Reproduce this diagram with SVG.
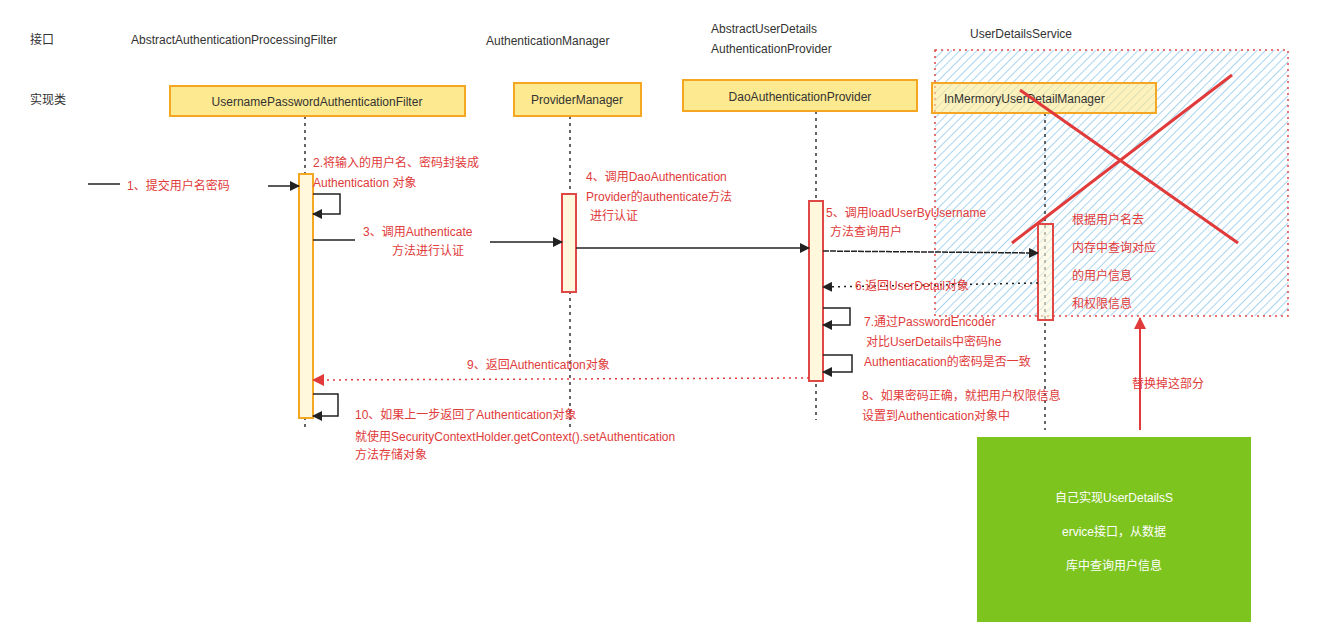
<svg xmlns="http://www.w3.org/2000/svg" width="1326" height="639" viewBox="0 0 1326 639">
<style>
text{font-family:"Liberation Sans","Noto Sans CJK SC",sans-serif;font-size:12px}
.k{fill:#333}
.r{fill:#e03a3a}
.box{fill:#fde98f;stroke:#f5a623;stroke-width:2}
.life{stroke:#333;stroke-width:1.5;stroke-dasharray:3 4;fill:none}
.actO{fill:#fff8dc;stroke:#f5a623;stroke-width:2}
.actR{fill:#fff8dc;stroke:#e04848;stroke-width:2}
.ln{stroke:#222;stroke-width:1.5;fill:none}
</style>
<defs>
<pattern id="h" width="6" height="6" patternUnits="userSpaceOnUse" patternTransform="rotate(45)">
<rect width="6" height="6" fill="#fff"/><line x1="0" y1="0" x2="0" y2="6" stroke="#a8d4f0" stroke-width="2"/>
</pattern>
<marker id="a" markerWidth="10" markerHeight="10" refX="9" refY="5" orient="auto" markerUnits="userSpaceOnUse"><path d="M0,0 L10,5 L0,10Z" fill="#222"/></marker>
<marker id="ar" markerWidth="12" markerHeight="12" refX="11" refY="6" orient="auto" markerUnits="userSpaceOnUse"><path d="M0,0 L12,6 L0,12Z" fill="#e03a3a"/></marker>
</defs>
<rect width="1326" height="639" fill="#fff"/>
<g id="region">
<rect x="935" y="50" width="353" height="266" fill="url(#h)" stroke="#e04848" stroke-width="1.5" stroke-dasharray="2 4"/>
</g>
<g id="labels">
<text class="k" x="30" y="44" font-size="14">接口</text>
<text class="k" x="30" y="104" font-size="14">实现类</text>
<text class="k" x="131" y="44">AbstractAuthenticationProcessingFilter</text>
<text class="k" x="486" y="45">AuthenticationManager</text>
<text class="k" x="711" y="33">AbstractUserDetails</text>
<text class="k" x="711" y="53">AuthenticationProvider</text>
<text class="k" x="970" y="38">UserDetailsService</text>
</g>
<g id="lifelines">
<line class="life" x1="305" y1="116" x2="305" y2="430"/>
<line class="life" x1="570" y1="116" x2="570" y2="430"/>
<line class="life" x1="816" y1="111" x2="816" y2="420"/>
<line class="life" x1="1045" y1="113" x2="1045" y2="430"/>
</g>
<g id="n1"><rect class="box" x="170" y="86" width="295" height="30"/><text class="k" x="317" y="106" text-anchor="middle">UsernamePasswordAuthenticationFilter</text></g>
<g id="n2"><rect class="box" x="514" y="83" width="127" height="33"/><text class="k" x="577" y="104" text-anchor="middle">ProviderManager</text></g>
<g id="n3"><rect class="box" x="683" y="80" width="234" height="31"/><text class="k" x="800" y="101" text-anchor="middle">DaoAuthenticationProvider</text></g>
<g id="n4"><rect class="box" x="932" y="83" width="224" height="30" fill-opacity="0.6"/><text class="k" x="944" y="103">InMermoryUserDetailManager</text></g>
<g id="activations">
<rect class="actO" x="299" y="174" width="14" height="244"/>
<rect class="actR" x="562" y="194" width="14" height="98"/>
<rect class="actR" x="809" y="201" width="14" height="180"/>
<rect class="actR" x="1038" y="224" width="15" height="96" fill-opacity="0.6"/>
</g>
<g id="connectors">
<line class="ln" x1="88" y1="184" x2="120" y2="184"/>
<line class="ln" x1="268" y1="186" x2="299" y2="186" marker-end="url(#a)"/>
<polyline class="ln" points="313,194 340,194 340,214 313,214" marker-end="url(#a)"/>
<line class="ln" x1="313" y1="240" x2="355" y2="240"/>
<line class="ln" x1="490" y1="242" x2="562" y2="242" marker-end="url(#a)"/>
<line class="ln" x1="576" y1="248" x2="809" y2="248" marker-end="url(#a)"/>
<line class="ln" x1="823" y1="251" x2="1038" y2="253" stroke-dasharray="6 1" marker-end="url(#a)"/>
<line class="ln" x1="1038" y1="283" x2="823" y2="287" stroke-dasharray="2 4" marker-end="url(#a)"/>
<polyline class="ln" points="823,308 850,308 850,325 823,325" marker-end="url(#a)"/>
<polyline class="ln" points="823,355 852,355 852,372 823,372" marker-end="url(#a)"/>
<line x1="809" y1="378" x2="313" y2="380" stroke="#e03a3a" stroke-width="1.5" stroke-dasharray="2 4" marker-end="url(#ar)"/>
<polyline class="ln" points="313,394 338,394 338,416 313,416" marker-end="url(#a)"/>
<line x1="1140" y1="430" x2="1140" y2="318" stroke="#e03a3a" stroke-width="2" marker-end="url(#ar)"/>
</g>
<g id="msgs">
<text class="r" x="127" y="190">1、提交用户名密码</text>
<text class="r" x="313" y="167">2.将输入的用户名、密码封装成</text>
<text class="r" x="313" y="187">Authentication 对象</text>
<text class="r" x="363" y="236">3、调用Authenticate</text>
<text class="r" x="392" y="255">方法进行认证</text>
<text class="r" x="586" y="181">4、调用DaoAuthentication</text>
<text class="r" x="586" y="201">Provider的authenticate方法</text>
<text class="r" x="590" y="220">进行认证</text>
<text class="r" x="826" y="217">5、调用loadUserByUsername</text>
<text class="r" x="830" y="236">方法查询用户</text>
<text class="r" x="855" y="290">6.返回UserDetail对象</text>
<text class="r" x="864" y="326">7.通过PasswordEncoder</text>
<text class="r" x="866" y="346">对比UserDetails中密码he</text>
<text class="r" x="864" y="366">Authentiacation的密码是否一致</text>
<text class="r" x="467" y="369">9、返回Authentication对象</text>
<text class="r" x="862" y="400">8、如果密码正确，就把用户权限信息</text>
<text class="r" x="862" y="420">设置到Authentication对象中</text>
<text class="r" x="355" y="419">10、如果上一步返回了Authentication对象</text>
<text class="r" x="355" y="441">就使用SecurityContextHolder.getContext().setAuthentication</text>
<text class="r" x="355" y="459">方法存储对象</text>
</g>
<g id="cross">
<line x1="1012" y1="243" x2="1232" y2="75" stroke="#e03a3a" stroke-width="3"/>
<line x1="1020" y1="90" x2="1238" y2="243" stroke="#e03a3a" stroke-width="3"/>
<text class="r" x="1072" y="224" font-size="17">根据用户名去</text>
<text class="r" x="1072" y="252" font-size="17">内存中查询对应</text>
<text class="r" x="1072" y="280" font-size="17">的用户信息</text>
<text class="r" x="1072" y="308" font-size="17">和权限信息</text>
<text class="r" x="1132" y="388" font-size="20">替换掉这部分</text>
</g>
<g id="green">
<rect x="977" y="437" width="274" height="185" fill="#7ec41f"/>
<text x="1114" y="502" font-size="21" fill="#fff" text-anchor="middle">自己实现UserDetailsS</text>
<text x="1114" y="536" font-size="21" fill="#fff" text-anchor="middle">ervice接口，从数据</text>
<text x="1114" y="570" font-size="21" fill="#fff" text-anchor="middle">库中查询用户信息</text>
</g>
</svg>
